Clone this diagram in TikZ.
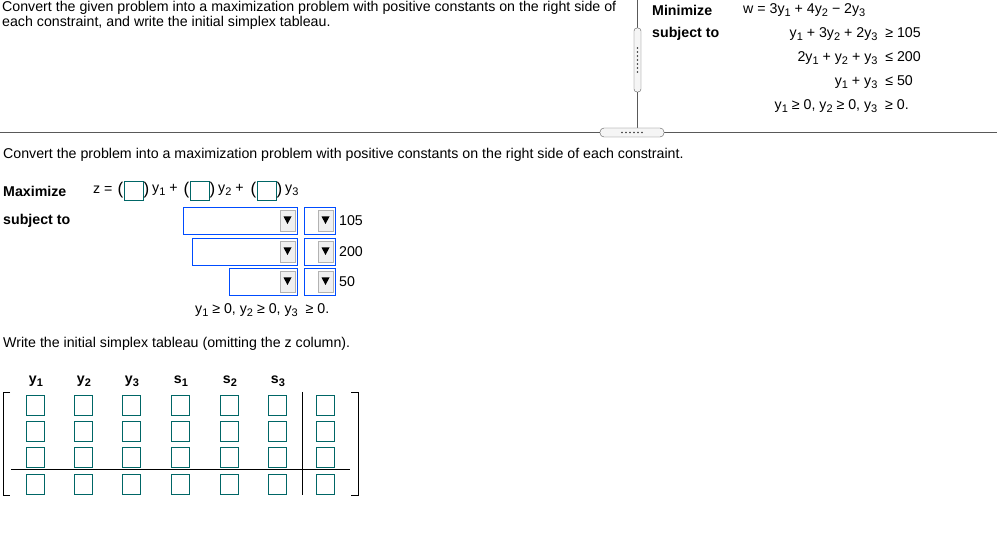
\documentclass[tikz,border=0pt]{standalone}
\usepackage{fontspec}
\setmainfont{Liberation Sans}
\newcommand\sbs[1]{\raisebox{-0.4ex}{\fontsize{11}{11}\selectfont #1}}
\begin{document}
\begin{tikzpicture}[x=1pt,y=-1pt,
  txt/.style={anchor=west,inner sep=0pt,font=\fontsize{14.2}{16}\selectfont},
  bld/.style={txt,font=\fontsize{14.2}{16}\selectfont\bfseries},
  par/.style={inner sep=0pt,font=\fontsize{17}{17}\selectfont},
  ibox/.style={draw=teal!80!black,line width=0.8pt},
  dbox/.style={draw=blue!70!cyan,line width=0.8pt},
  btn/.style={draw=gray!60,fill=gray!12}]
\useasboundingbox (0,0) rectangle (997,537);
% dividers
\draw[gray!70!black,line width=0.8pt] (637,0) -- (637,132);
\draw[gray!70!black,line width=0.8pt] (0,132) -- (997,132);
\draw[gray!70!black,fill=gray!8,rounded corners=3pt] (634,28) rectangle (641,92);
\foreach \yy in {48,52,...,72} \fill[black!80] (637.5,\yy) circle (0.8);
\draw[gray!70!black,fill=gray!8,rounded corners=4pt] (600,128) rectangle (664,137);
\foreach \xx in {622,626,...,642} \fill[black!80] (\xx,132.5) circle (0.8);
% top texts
\node[txt] (t1) at (2,7.5) {Convert the given problem into a maximization problem with positive constants on the right side of};
\node[txt] (t2) at (2,22.5) {each constraint, and write the initial simplex tableau.};
\node[bld] (mn) at (652,10) {Minimize};
\node[bld] (st1) at (652,34) {subject to};
\node[txt] (w) at (743,10) {w = 3y\sbs1 + 4y\sbs2 − 2y\sbs3};
\node[txt,anchor=east] (c1) at (921,34) {y\sbs1 + 3y\sbs2 + 2y\sbs3 \ ≥ 105};
\node[txt,anchor=east] (c2) at (921,58) {2y\sbs1 + y\sbs2 + y\sbs3 \ ≤ 200};
\node[txt,anchor=east] (c3) at (913,82) {y\sbs1 + y\sbs3 \ ≤ 50};
\node[txt,anchor=east] (c4) at (909,106) {y\sbs1 ≥ 0, y\sbs2 ≥ 0, y\sbs3 \ ≥ 0.};
% second part
\node[txt] (t3) at (3,155) {Convert the problem into a maximization problem with positive constants on the right side of each constraint.};
\node[bld] (mx) at (3,191) {Maximize};
\node[bld] (st2) at (3,221) {subject to};
\node[txt] (z) at (93,190) {z =};
\foreach \bx/\lab in {124/y\sbs1 +,190/y\sbs2 +,257/y\sbs3} {
  \node[par,anchor=east] at (\bx-0.5,190) {(};
  \draw[ibox] (\bx,181) rectangle (\bx+19,200);
  \node[par,anchor=west] at (\bx+19.5,190) {)};
  \node[txt] at (\bx+28,190) {\lab};
}
\foreach \xl/\yt/\val in {183/207/105,192/238/200,229/268/50} {
  \draw[dbox] (\xl,\yt) rectangle (297,\yt+27);
  \draw[btn] (280,\yt+3) rectangle (295,\yt+24);
  \fill (283.5,\yt+9.5) -- (291.5,\yt+9.5) -- (287.5,\yt+17) -- cycle;
  \draw[dbox] (304,\yt) rectangle (335,\yt+27);
  \draw[btn] (318,\yt+3) rectangle (333,\yt+24);
  \fill (321.5,\yt+9.5) -- (329.5,\yt+9.5) -- (325.5,\yt+17) -- cycle;
  \node[txt] at (339,\yt+13.5) {\val};
}
\node[txt] (nn) at (195,310) {y\sbs1 ≥ 0, y\sbs2 ≥ 0, y\sbs3 \ ≥ 0.};
\node[txt] (t4) at (3,344) {Write the initial simplex tableau (omitting the z column).};
% tableau
\foreach \xx/\lab in {35/y\sbs1,83/y\sbs2,131/y\sbs3,180/s\sbs1,229/s\sbs2,277/s\sbs3}
  \node[font=\fontsize{14.2}{16}\selectfont\bfseries,inner sep=0pt] at (\xx+1,381) {\lab};
\foreach \xx in {35,83,131,180,229,277,325}
  \foreach \yy in {405,431,457,484}
    \draw[ibox] (\xx-9,\yy-10) rectangle (\xx+9,\yy+10);
\draw[line width=0.8pt] (10,392) -- (3,392) -- (3,495) -- (10,495);
\draw[line width=0.8pt] (351,392) -- (358,392) -- (358,495) -- (351,495);
\draw[line width=0.8pt] (11,469) -- (350,469);
\draw[line width=0.8pt] (302,392) -- (302,495);
\end{tikzpicture}
\end{document}
